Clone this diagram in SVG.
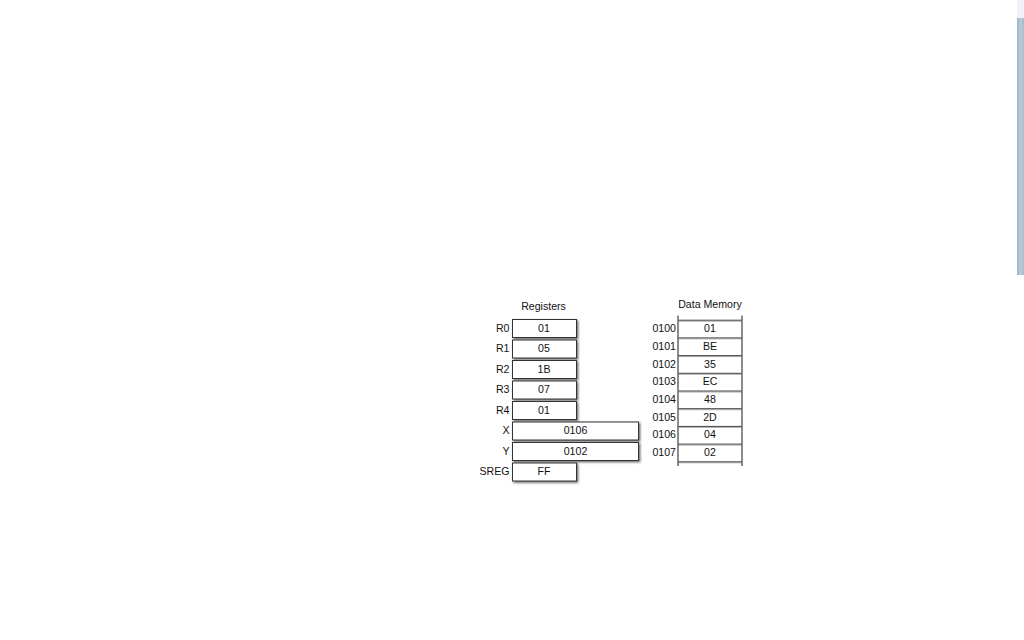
<svg xmlns="http://www.w3.org/2000/svg" width="1024" height="640" viewBox="0 0 1024 640">
<defs>
<filter id="sh" x="-10%" y="-20%" width="130%" height="160%">
<feDropShadow dx="1.3" dy="1.3" stdDeviation="0.9" flood-color="#000" flood-opacity="0.6"/>
</filter>
<linearGradient id="sb" x1="0" y1="0" x2="1" y2="0">
<stop offset="0" stop-color="#9fb3c4"/>
<stop offset="0.5" stop-color="#b9cbd9"/>
<stop offset="1" stop-color="#a8bccb"/>
</linearGradient>
</defs>
<style>
text{font-family:"Liberation Sans",Arial,sans-serif;font-size:10.6px;fill:#111}
.lbl{text-anchor:end}
.val{text-anchor:middle}
.box{fill:#fff;stroke:#333;stroke-width:1;filter:url(#sh)}
.mv{stroke:#666;stroke-width:1.5}
.mh{stroke:#444;stroke-width:1}
.mhs{stroke:#aaa;stroke-width:1}
</style>
<rect width="1024" height="640" fill="#fff"/>
<rect x="1017" y="0" width="7" height="18" fill="#eef2f6"/>
<rect x="1017" y="18" width="7" height="257" fill="url(#sb)"/>

<text class="val" x="543.5" y="310">Registers</text>
<g id="R0"><text class="lbl" x="509.5" y="331.5">R0</text><rect class="box" x="512.5" y="319.5" width="64" height="18"/><text class="val" x="544" y="331.5">01</text></g>
<g id="R1"><text class="lbl" x="509.5" y="352">R1</text><rect class="box" x="512.5" y="340" width="64" height="18"/><text class="val" x="544" y="352">05</text></g>
<g id="R2"><text class="lbl" x="509.5" y="372.5">R2</text><rect class="box" x="512.5" y="360.5" width="64" height="18"/><text class="val" x="544" y="372.5">1B</text></g>
<g id="R3"><text class="lbl" x="509.5" y="393">R3</text><rect class="box" x="512.5" y="381" width="64" height="18"/><text class="val" x="544" y="393">07</text></g>
<g id="R4"><text class="lbl" x="509.5" y="413.5">R4</text><rect class="box" x="512.5" y="401.5" width="64" height="18"/><text class="val" x="544" y="413.5">01</text></g>
<g id="X"><text class="lbl" x="509.5" y="434">X</text><rect class="box" x="512.5" y="422" width="126" height="18"/><text class="val" x="575.5" y="434">0106</text></g>
<g id="Y"><text class="lbl" x="509.5" y="454.5">Y</text><rect class="box" x="512.5" y="442.5" width="126" height="18"/><text class="val" x="575.5" y="454.5">0102</text></g>
<g id="SREG"><text class="lbl" x="509.5" y="475">SREG</text><rect class="box" x="512.5" y="463" width="64" height="18"/><text class="val" x="544" y="475">FF</text></g>

<g id="memory">
<text class="val" x="710" y="308">Data Memory</text>
<g id="mem-grid">
<line class="mhs" x1="678" y1="321.2" x2="742" y2="321.2"/>
<line class="mhs" x1="678" y1="338.9" x2="742" y2="338.9"/>
<line class="mhs" x1="678" y1="356.6" x2="742" y2="356.6"/>
<line class="mhs" x1="678" y1="374.3" x2="742" y2="374.3"/>
<line class="mhs" x1="678" y1="392" x2="742" y2="392"/>
<line class="mhs" x1="678" y1="409.7" x2="742" y2="409.7"/>
<line class="mhs" x1="678" y1="427.4" x2="742" y2="427.4"/>
<line class="mhs" x1="678" y1="445.1" x2="742" y2="445.1"/>
<line class="mhs" x1="678" y1="462.8" x2="742" y2="462.8"/>
<line class="mh" x1="678" y1="320.2" x2="742" y2="320.2"/>
<line class="mh" x1="678" y1="337.9" x2="742" y2="337.9"/>
<line class="mh" x1="678" y1="355.6" x2="742" y2="355.6"/>
<line class="mh" x1="678" y1="373.3" x2="742" y2="373.3"/>
<line class="mh" x1="678" y1="391" x2="742" y2="391"/>
<line class="mh" x1="678" y1="408.7" x2="742" y2="408.7"/>
<line class="mh" x1="678" y1="426.4" x2="742" y2="426.4"/>
<line class="mh" x1="678" y1="444.1" x2="742" y2="444.1"/>
<line class="mh" x1="678" y1="461.8" x2="742" y2="461.8"/>
<line class="mv" x1="678" y1="315.5" x2="678" y2="466"/>
<line class="mv" x1="742" y1="315.5" x2="742" y2="466"/>
</g>
<g id="m0100"><text class="lbl" x="676" y="332.2">0100</text><text class="val" x="710" y="332.2">01</text></g>
<g id="m0101"><text class="lbl" x="676" y="349.9">0101</text><text class="val" x="710" y="349.9">BE</text></g>
<g id="m0102"><text class="lbl" x="676" y="367.6">0102</text><text class="val" x="710" y="367.6">35</text></g>
<g id="m0103"><text class="lbl" x="676" y="385.3">0103</text><text class="val" x="710" y="385.3">EC</text></g>
<g id="m0104"><text class="lbl" x="676" y="403">0104</text><text class="val" x="710" y="403">48</text></g>
<g id="m0105"><text class="lbl" x="676" y="420.7">0105</text><text class="val" x="710" y="420.7">2D</text></g>
<g id="m0106"><text class="lbl" x="676" y="438.4">0106</text><text class="val" x="710" y="438.4">04</text></g>
<g id="m0107"><text class="lbl" x="676" y="456.1">0107</text><text class="val" x="710" y="456.1">02</text></g>
</g>
</svg>
